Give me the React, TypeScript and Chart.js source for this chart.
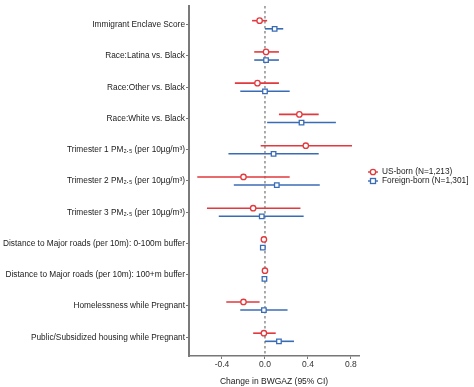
import React, { useEffect, useRef } from "react";
import { Chart, registerables } from "chart.js";

Chart.register(...registerables);

const categories = [
  "Immigrant Enclave Score",
  "Race:Latina vs. Black",
  "Race:Other vs. Black",
  "Race:White vs. Black",
  "Trimester 1 PM₂.₅ (per 10µg/m³)",
  "Trimester 2 PM₂.₅ (per 10µg/m³)",
  "Trimester 3 PM₂.₅ (per 10µg/m³)",
  "Distance to Major roads (per 10m): 0-100m buffer",
  "Distance to Major roads (per 10m): 100+m buffer",
  "Homelessness while Pregnant",
  "Public/Subsidized housing while Pregnant",
];

const usEst = [-0.05, 0.01, -0.07, 0.32, 0.38, -0.2, -0.11, -0.01, 0.0, -0.2, -0.01];
const usLo = [-0.12, -0.1, -0.28, 0.13, -0.04, -0.63, -0.54, -0.02, -0.01, -0.36, -0.11];
const usHi = [0.02, 0.13, 0.13, 0.5, 0.81, 0.23, 0.33, 0.0, 0.01, -0.05, 0.1];

const fbEst = [0.09, 0.01, 0.0, 0.34, 0.08, 0.11, -0.03, -0.02, -0.005, -0.01, 0.13];
const fbLo = [0.0, -0.1, -0.23, 0.02, -0.34, -0.29, -0.43, -0.03, -0.01, -0.23, 0.0];
const fbHi = [0.17, 0.13, 0.23, 0.66, 0.5, 0.51, 0.36, -0.01, 0.0, 0.21, 0.27];

const xTicks = [-0.4, 0, 0.4, 0.8];
const seriesNames = ["US-born (N=1,213)", "Foreign-born (N=1,301]"];

const RED = "#E1393D";
const BLUE = "#3A6CB6";
const FONT = "'Liberation Sans', Arial, sans-serif";
const DODGE = 0.13;

export default function App() {
  const ref = useRef<HTMLCanvasElement | null>(null);

  useEffect(() => {
    document.body.style.margin = "0";
    const canvas = ref.current;
    if (!canvas) return;

    const series = [
      { name: seriesNames[0], est: usEst, lo: usLo, hi: usHi, color: RED, style: "circle", off: -DODGE },
      { name: seriesNames[1], est: fbEst, lo: fbLo, hi: fbHi, color: BLUE, style: "rect", off: DODGE },
    ];

    const bars = {
      id: "bars",
      beforeDatasetsDraw(chart: any) {
        const { ctx, chartArea, scales } = chart;
        const x = scales.x;
        const y = scales.y;
        ctx.save();
        // zero reference line
        const x0 = x.getPixelForValue(0);
        ctx.strokeStyle = "#555";
        ctx.lineWidth = 1;
        ctx.setLineDash([2.5, 2.5]);
        ctx.beginPath();
        ctx.moveTo(x0, chartArea.top);
        ctx.lineTo(x0, chartArea.bottom);
        ctx.stroke();
        ctx.setLineDash([]);
        // CI lines
        ctx.lineWidth = 1.6;
        series.forEach((s) => {
          ctx.strokeStyle = s.color;
          s.est.forEach((_, i) => {
            const py = y.getPixelForValue(i + 1 + s.off);
            ctx.beginPath();
            ctx.moveTo(x.getPixelForValue(s.lo[i]), py);
            ctx.lineTo(x.getPixelForValue(s.hi[i]), py);
            ctx.stroke();
          });
        });
        ctx.restore();
      },
      afterDraw(chart: any) {
        const { ctx } = chart;
        ctx.save();
        const lx = 373;
        const rows = [172, 181];
        series.forEach((s, k) => {
          const ly = rows[k];
          ctx.strokeStyle = s.color;
          ctx.lineWidth = 1.4;
          ctx.beginPath();
          ctx.moveTo(lx - 5, ly);
          ctx.lineTo(lx + 5, ly);
          ctx.stroke();
          ctx.fillStyle = "#fff";
          ctx.lineWidth = 1.3;
          if (s.style === "circle") {
            ctx.beginPath();
            ctx.arc(lx, ly, 2.7, 0, Math.PI * 2);
            ctx.fill();
            ctx.stroke();
          } else {
            ctx.fillRect(lx - 2.5, ly - 2.5, 5, 5);
            ctx.strokeRect(lx - 2.5, ly - 2.5, 5, 5);
          }
          ctx.fillStyle = "#222";
          ctx.font = `8.3px ${FONT}`;
          ctx.textBaseline = "middle";
          ctx.textAlign = "left";
          ctx.fillText(s.name, lx + 9, ly);
        });
        ctx.restore();
      },
    };

    const chart = new Chart(canvas, {
      type: "scatter",
      data: {
        datasets: series.map((s) => ({
          label: s.name,
          data: s.est.map((v, i) => ({ x: v, y: i + 1 + s.off })),
          pointStyle: s.style as any,
          pointRadius: s.style === "circle" ? 2.7 : 3.2,
          pointBorderWidth: 1.3,
          pointBorderColor: s.color,
          pointBackgroundColor: "#fff",
          borderColor: s.color,
          backgroundColor: "#fff",
        })),
      },
      options: {
        animation: false,
        responsive: false,
        events: [],
        layout: { padding: { left: 0, right: 115, top: 1, bottom: 0 } },
        plugins: { legend: { display: false }, tooltip: { enabled: false } },
        scales: {
          x: {
            type: "linear",
            min: -0.707,
            max: 0.875,
            afterBuildTicks: (scale: any) => {
              scale.ticks = xTicks.map((v) => ({ value: v }));
            },
            afterFit: (scale: any) => {
              scale.height = 31;
            },
            ticks: {
              padding: 1,
              color: "#333",
              font: { family: FONT, size: 8.5 },
              callback: (v: any) => Number(v).toFixed(1),
            },
            grid: {
              display: true,
              drawOnChartArea: false,
              drawTicks: true,
              tickLength: 3,
              color: "#777",
              lineWidth: 1,
            },
            border: { display: true, color: "#777", width: 1.5 },
            title: {
              display: true,
              text: "Change in BWGAZ (95% CI)",
              color: "#222",
              font: { family: FONT, size: 8.5 },
              padding: { top: 0, bottom: 0 },
            },
          },
          y: {
            type: "linear",
            min: 0.4,
            max: 11.6,
            reverse: true,
            afterBuildTicks: (scale: any) => {
              scale.ticks = categories.map((_, i) => ({ value: i + 1 }));
            },
            afterFit: (scale: any) => {
              scale.width = 189;
            },
            ticks: {
              padding: 1,
              color: "#222",
              font: { family: FONT, size: 8.3 },
              callback: (v: any) => categories[Math.round(Number(v)) - 1] ?? "",
            },
            grid: {
              display: true,
              drawOnChartArea: false,
              drawTicks: true,
              tickLength: 3,
              color: "#777",
              lineWidth: 1,
            },
            border: { display: true, color: "#7a7a7a", width: 2 },
          },
        },
      },
      plugins: [bars],
    });

    return () => chart.destroy();
  }, []);

  return (
    <div style={{ position: "absolute", left: 0, top: 0, width: 474, height: 387, background: "#fff" }}>
      <canvas ref={ref} width={474} height={387} style={{ width: 474, height: 387, display: "block" }} />
    </div>
  );
}
